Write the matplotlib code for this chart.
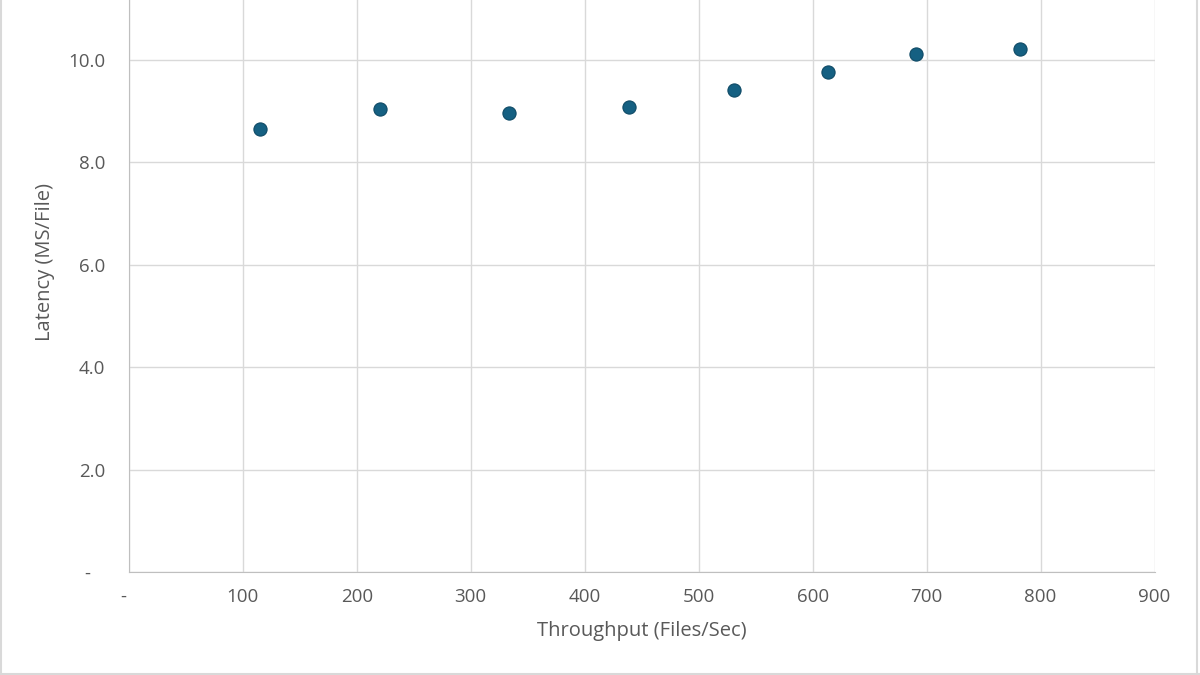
import matplotlib
matplotlib.use("Agg")
import matplotlib.pyplot as plt
from matplotlib.lines import Line2D

plt.rcParams['font.family'] = ['Open Sans', 'DejaVu Sans']

# Data
throughput = [115.2, 220.7, 333.9, 438.9, 531.0, 613.7, 690.6, 781.8]
latency = [8.66, 9.04, 8.97, 9.09, 9.41, 9.77, 10.12, 10.22]

x_ticks = [0, 100, 200, 300, 400, 500, 600, 700, 800, 900]
x_tick_labels = ["-  ", "100", "200", "300", "400", "500", "600", "700", "800", "900"]
y_ticks = [0, 2, 4, 6, 8, 10]
y_tick_labels = ["-   ", "2.0", "4.0", "6.0", "8.0", "10.0"]

text_col = "#595959"
grid_col = "#d9d9d9"

fig = plt.figure(figsize=(12, 6.75), dpi=100)
ax = fig.add_axes([0.1073, 0.1521, 0.9621 - 0.1073, 1 - 0.1521])

ax.scatter(throughput, latency, s=90, color="#156082", edgecolor="#0f4a66",
           linewidth=0.8, zorder=3)

ax.set_xlim(0, 900)
ax.set_ylim(0, 11.17)
ax.set_xticks(x_ticks)
ax.set_xticklabels(x_tick_labels)
ax.set_yticks(y_ticks)
ax.set_yticklabels(y_tick_labels)

ax.grid(True, color=grid_col, linewidth=1.0, zorder=0)
ax.set_axisbelow(True)
ax.spines['top'].set_visible(False)
ax.spines['right'].set_visible(False)
ax.spines['left'].set_color("#bfbfbf")
ax.spines['bottom'].set_color("#bfbfbf")
ax.tick_params(length=0, labelsize=13.5, colors=text_col)
ax.tick_params(axis='x', pad=11)
ax.tick_params(axis='y', pad=17)

ax.set_xlabel("Throughput (Files/Sec)", fontsize=14.5, color=text_col, labelpad=11)
ax.set_ylabel("Latency (MS/File)", fontsize=14.5, color=text_col)
ax.yaxis.set_label_coords(-0.072, 0.543)

# light chart-area border (top is cropped in the original)
for xs, ys in [([0.001, 0.001], [0, 1]), ([0, 1], [0.002, 0.002]), ([0.9975, 0.9975], [0, 1])]:
    fig.add_artist(Line2D(xs, ys, transform=fig.transFigure, color="#d9d9d9", linewidth=1.5))

fig.savefig("out.png", dpi=100, facecolor="white")
